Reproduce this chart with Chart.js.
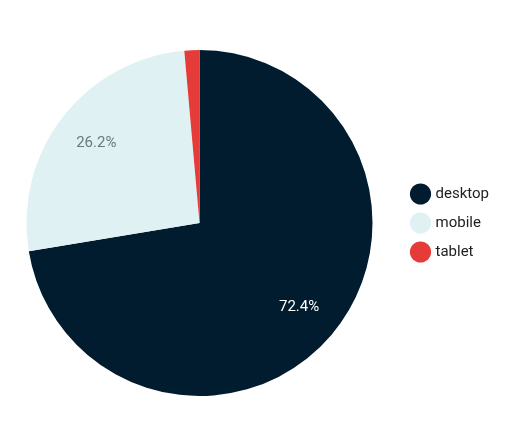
<!DOCTYPE html>
<html>
<head>
<meta charset="utf-8">
<script src="https://cdn.jsdelivr.net/npm/chart.js@4"></script>
<style>
  html, body { margin: 0; padding: 0; background: #fff; }
  #wrap { width: 509px; height: 422px; }
</style>
</head>
<body>
<div id="wrap"><canvas id="chart"></canvas></div>
<script>
const labels = ["desktop", "mobile", "tablet"];
const shares = [72.4, 26.2, 1.4];
const colors = ["#011b2f", "#dff1f2", "#e53b39"];
const labelColors = ["#ffffff", "#6b7780", null];

// draws the percentage inside each slice, a bit out from the middle
const sliceLabels = {
  id: "sliceLabels",
  afterDatasetsDraw(chart) {
    const ctx = chart.ctx;
    const meta = chart.getDatasetMeta(0);
    ctx.save();
    ctx.font = "15px Roboto";
    ctx.textAlign = "center";
    ctx.textBaseline = "middle";
    meta.data.forEach((arc, i) => {
      if (!labelColors[i]) return;
      const p = arc.getProps(["x", "y", "startAngle", "endAngle", "outerRadius"], true);
      const mid = (p.startAngle + p.endAngle) / 2;
      const r = p.outerRadius * 0.755;
      ctx.fillStyle = labelColors[i];
      ctx.fillText(shares[i].toFixed(1) + "%", p.x + r * Math.cos(mid), p.y + r * Math.sin(mid));
    });
    ctx.restore();
  }
};

new Chart(document.getElementById("chart"), {
  type: "pie",
  data: {
    labels: labels,
    datasets: [{ data: shares, backgroundColor: colors, borderWidth: 0 }]
  },
  options: {
    responsive: true,
    maintainAspectRatio: false,
    animation: false,
    layout: { padding: { top: 50, bottom: 26, left: 0, right: 10 } },
    plugins: {
      tooltip: { enabled: false },
      legend: {
        position: "right",
        labels: {
          usePointStyle: true,
          pointStyle: "circle",
          boxWidth: 15,
          boxHeight: 15,
          padding: 14,
          color: "#222",
          font: { family: "Roboto", size: 15 }
        }
      }
    }
  },
  plugins: [sliceLabels]
});
</script>
</body>
</html>
